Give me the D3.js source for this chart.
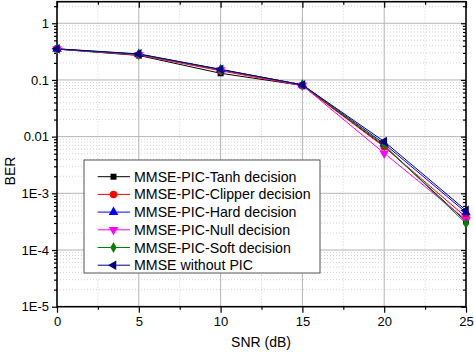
<!DOCTYPE html>
<html><head><meta charset="utf-8">
<script src="https://cdn.jsdelivr.net/npm/d3@7"></script>
<style>body{margin:0;background:#fff}svg{display:block}text{font-family:"Liberation Sans",Arial,sans-serif}</style>
</head><body><svg id="c" width="474" height="353"></svg>
<script>
const snr = [0, 5, 10, 15, 20, 25];
const seriesNames = ["MMSE-PIC-Tanh decision","MMSE-PIC-Clipper decision","MMSE-PIC-Hard decision","MMSE-PIC-Null decision","MMSE-PIC-Soft decision","MMSE without PIC"];
const tanhBER    = [0.350, 0.270, 0.131, 0.080, 0.0068, 3.2e-4];
const clipperBER = [0.352, 0.275, 0.145, 0.079, 0.0066, 3.8e-4];
const hardBER    = [0.352, 0.285, 0.152, 0.082, 0.0075, 4.6e-4];
const nullBER    = [0.350, 0.278, 0.150, 0.080, 0.0051, 3.4e-4];
const softBER    = [0.352, 0.282, 0.152, 0.082, 0.0071, 2.95e-4];
const noPicBER   = [0.355, 0.288, 0.154, 0.082, 0.0082, 5.0e-4];
const seriesValues = [tanhBER, clipperBER, hardBER, nullBER, softBER, noPicBER];
const colors = ["#000000","#ff0000","#0000ff","#ff00ff","#008000","#000080"];
const shapes = ["square","circle","up","down","diamond","left"];
const xTicks = [0, 5, 10, 15, 20, 25];
const yTicks = [1, 0.1, 0.01, 1e-3, 1e-4, 1e-5];
const yTickLabels = ["1","0.1","0.01","1E-3","1E-4","1E-5"];

const svg = d3.select("#c");
const L = 57, R = 466, T = 1.7, B = 306.7;
const x = d3.scaleLinear().domain([0, 25]).range([L, R]);
const y = d3.scaleLog().domain([1e-5, 2.4]).range([B, T]);

const yMinor = [];
for (let e = -5; e <= 0; e++) for (let k = 2; k <= 9; k++) { const v = k * Math.pow(10, e); if (v < 2.4) yMinor.push(v); }
const xMinor = [2.5, 7.5, 12.5, 17.5, 22.5];

const g = svg.append("g");
g.selectAll(".ymg").data(yMinor).enter().append("line")
  .attr("x1", L).attr("x2", R).attr("y1", d => y(d)).attr("y2", d => y(d))
  .attr("stroke", "#c8c8c8").attr("stroke-width", 0.8).attr("stroke-dasharray", "1,2");
g.selectAll(".xmg").data(xMinor).enter().append("line")
  .attr("y1", T).attr("y2", B).attr("x1", d => x(d)).attr("x2", d => x(d))
  .attr("stroke", "#c8c8c8").attr("stroke-width", 0.8).attr("stroke-dasharray", "1,2");
g.selectAll(".ymj").data(yTicks.slice(0, 5)).enter().append("line")
  .attr("x1", L).attr("x2", R).attr("y1", d => y(d)).attr("y2", d => y(d))
  .attr("stroke", "#b4b4b4").attr("stroke-width", 1);
g.selectAll(".xmj").data(xTicks.slice(1, 5)).enter().append("line")
  .attr("y1", T).attr("y2", B).attr("x1", d => x(d)).attr("x2", d => x(d))
  .attr("stroke", "#b4b4b4").attr("stroke-width", 1);

const fmtY = d => { const i = yTicks.findIndex(t => Math.abs(t - d) / d < 1e-6); return i >= 0 ? yTickLabels[i] : ""; };
const axL = svg.append("g").attr("transform", `translate(${L},0)`)
  .call(d3.axisLeft(y).tickValues(yTicks).tickFormat(fmtY).tickSize(5).tickPadding(3));
const axLm = svg.append("g").attr("transform", `translate(${L},0)`)
  .call(d3.axisLeft(y).tickValues(yMinor).tickFormat("").tickSize(3));
const axR = svg.append("g").attr("transform", `translate(${R},0)`)
  .call(d3.axisLeft(y).tickValues(yTicks).tickFormat("").tickSize(5));
const axRm = svg.append("g").attr("transform", `translate(${R},0)`)
  .call(d3.axisLeft(y).tickValues(yMinor).tickFormat("").tickSize(3));
const axB = svg.append("g").attr("transform", `translate(0,${B})`)
  .call(d3.axisBottom(x).tickValues(xTicks).tickFormat(d3.format("d")).tickSize(6).tickPadding(4));
const axBm = svg.append("g").attr("transform", `translate(0,${B})`)
  .call(d3.axisBottom(x).tickValues(xMinor).tickFormat("").tickSize(3));
const axT = svg.append("g").attr("transform", `translate(0,${T})`)
  .call(d3.axisBottom(x).tickValues(xTicks).tickFormat("").tickSize(6));
const axTm = svg.append("g").attr("transform", `translate(0,${T})`)
  .call(d3.axisBottom(x).tickValues(xMinor).tickFormat("").tickSize(3));
[axL, axLm, axR, axRm, axB, axBm, axT, axTm].forEach(a => {
  a.select(".domain").remove();
  a.selectAll("line").attr("stroke", "#000").attr("stroke-width", 1.2);
  a.selectAll("text").attr("font-size", 13).attr("fill", "#000").attr("font-family", "Liberation Sans, Arial, sans-serif");
});
svg.append("rect").attr("x", L).attr("y", T).attr("width", R - L).attr("height", B - T)
  .attr("fill", "none").attr("stroke", "#000").attr("stroke-width", 1.6);

const sym = {square: d3.symbolSquare, circle: d3.symbolCircle, up: d3.symbolTriangle, down: d3.symbolTriangle, diamond: d3.symbolDiamond, left: d3.symbolTriangle};
const rot = {square: 0, circle: 0, up: 0, down: 180, diamond: 0, left: -90};
const size = {square: 36, circle: 44, up: 40, down: 40, diamond: 34, left: 40};
function marker(sel, shape, color, cx, cy) {
  sel.append("path").attr("d", d3.symbol().type(sym[shape]).size(size[shape])())
    .attr("transform", `translate(${cx},${cy}) rotate(${rot[shape]})`).attr("fill", color);
}
const line = d3.line().x((d, i) => x(snr[i])).y(d => y(d));
const sg = svg.append("g");
seriesValues.forEach((vals, si) => {
  sg.append("path").datum(vals).attr("d", line).attr("fill", "none").attr("stroke", colors[si]).attr("stroke-width", 1);
});
seriesValues.forEach((vals, si) => {
  vals.forEach((v, i) => marker(sg, shapes[si], colors[si], x(snr[i]), y(v)));
});

const lg = svg.append("g");
lg.append("rect").attr("x", 84).attr("y", 160).attr("width", 236).attr("height", 113)
  .attr("fill", "#fff").attr("stroke", "#555").attr("stroke-width", 1);
seriesNames.forEach((n, i) => {
  const cy = 176.7 + i * 17.7;
  lg.append("line").attr("x1", 97.7).attr("x2", 130).attr("y1", cy).attr("y2", cy).attr("stroke", colors[i]).attr("stroke-width", 1);
  marker(lg, shapes[i], colors[i], 113.5, cy);
  lg.append("text").attr("x", 134).attr("y", cy + 5).attr("font-size", 14.2).attr("fill", "#000").text(n);
});

svg.append("text").attr("x", 261).attr("y", 347).attr("text-anchor", "middle").attr("font-size", 14).text("SNR (dB)");
svg.append("text").attr("transform", "translate(15,171) rotate(-90)").attr("text-anchor", "middle").attr("font-size", 14).text("BER");
</script></body></html>
